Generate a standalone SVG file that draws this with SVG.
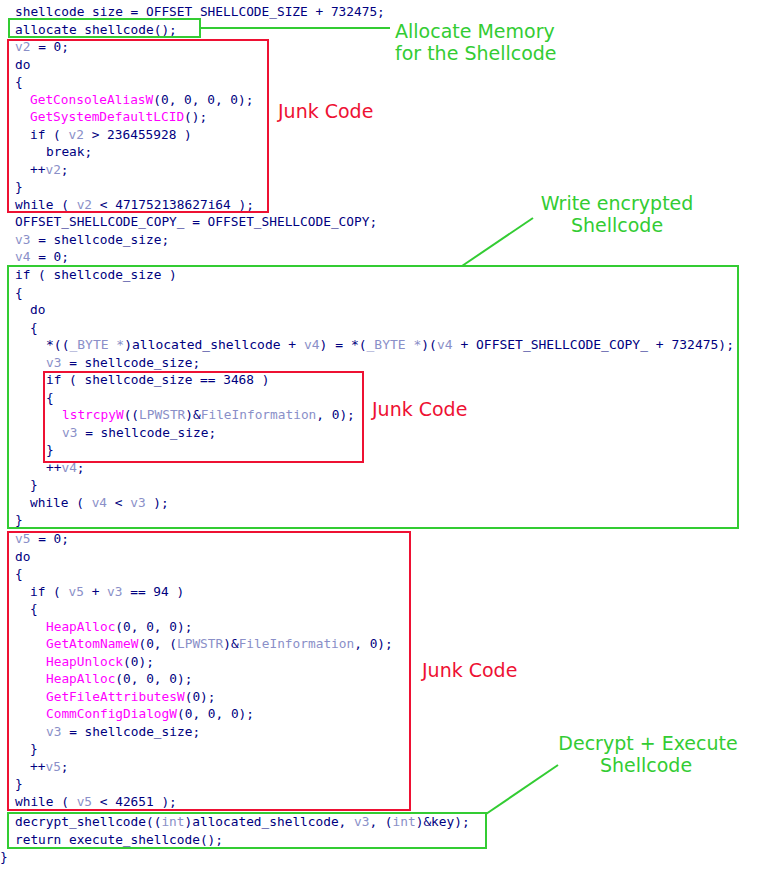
<svg xmlns="http://www.w3.org/2000/svg" width="768" height="872" viewBox="0 0 768 872">
<style>
.c{font-family:"DejaVu Sans Mono",monospace;font-size:12.8px;fill:#000080;white-space:pre}
.v{fill:#8a8fc8}.f{fill:#ff00ff}.g{fill:#0000ff}
.gb{fill:none;stroke:#33cc33;stroke-width:2}
.rb{fill:none;stroke:#ee1133;stroke-width:2}
.gl{font-family:"DejaVu Sans",sans-serif;font-size:19px;fill:#33cc33}
.rl{font-family:"DejaVu Sans",sans-serif;font-size:19px;fill:#ee1133}
</style>
<rect width="768" height="872" fill="#fff"/>
<g id="code" transform="translate(0,2)">
<text class="c" x="15" y="14">shellcode_size = OFFSET_SHELLCODE_SIZE + 732475;</text>
<text class="c" x="15" y="31.5">allocate_shellcode();</text>
<text class="c" x="15" y="49"><tspan class="v">v2</tspan> = 0;</text>
<text class="c" x="15" y="66.5">do</text>
<text class="c" x="15" y="84">{</text>
<text class="c" x="30" y="101.5"><tspan class="f">GetConsoleAliasW</tspan>(0, 0, 0, 0);</text>
<text class="c" x="30" y="119"><tspan class="f">GetSystemDefaultLCID</tspan>();</text>
<text class="c" x="30" y="136.5">if ( <tspan class="v">v2</tspan> &gt; 236455928 )</text>
<text class="c" x="46" y="154">break;</text>
<text class="c" x="30" y="171.5">++<tspan class="v">v2</tspan>;</text>
<text class="c" x="15" y="189">}</text>
<text class="c" x="15" y="206.5">while ( <tspan class="v">v2</tspan> &lt; 471752138627i64 );</text>
<text class="c" x="15" y="224">OFFSET_SHELLCODE_COPY_ = OFFSET_SHELLCODE_COPY;</text>
<text class="c" x="15" y="241.5"><tspan class="v">v3</tspan> = shellcode_size;</text>
<text class="c" x="15" y="259"><tspan class="v">v4</tspan> = 0;</text>
<text class="c" x="15" y="277">if ( shellcode_size )</text>
<text class="c" x="15" y="294.5">{</text>
<text class="c" x="30" y="312">do</text>
<text class="c" x="30" y="329.5">{</text>
<text class="c" x="46" y="347" textLength="688" lengthAdjust="spacingAndGlyphs">*((<tspan class="v">_BYTE *</tspan>)allocated_shellcode + <tspan class="v">v4</tspan>) = *(<tspan class="v">_BYTE *</tspan>)(<tspan class="v">v4</tspan> + OFFSET_SHELLCODE_COPY_ + 732475);</text>
<text class="c" x="46" y="364.5"><tspan class="v">v3</tspan> = shellcode_size;</text>
<text class="c" x="46" y="382">if ( shellcode_size == 3468 )</text>
<text class="c" x="46" y="399.5">{</text>
<text class="c" x="62" y="417"><tspan class="f">lstrcpyW</tspan>((<tspan class="v">LPWSTR</tspan>)&amp;<tspan class="v">FileInformation</tspan>, 0);</text>
<text class="c" x="62" y="434.5"><tspan class="v">v3</tspan> = shellcode_size;</text>
<text class="c" x="46" y="452">}</text>
<text class="c" x="46" y="469.5">++<tspan class="v">v4</tspan>;</text>
<text class="c" x="30" y="487">}</text>
<text class="c" x="30" y="504.5">while ( <tspan class="v">v4</tspan> &lt; <tspan class="v">v3</tspan> );</text>
<text class="c" x="15" y="522">}</text>
<text class="c" x="15" y="541"><tspan class="v">v5</tspan> = 0;</text>
<text class="c" x="15" y="558.5">do</text>
<text class="c" x="15" y="576">{</text>
<text class="c" x="30" y="593.5">if ( <tspan class="v">v5</tspan> + <tspan class="v">v3</tspan> == 94 )</text>
<text class="c" x="30" y="611">{</text>
<text class="c" x="46" y="628.5"><tspan class="f">HeapAlloc</tspan>(0, 0, 0);</text>
<text class="c" x="46" y="646"><tspan class="f">GetAtomNameW</tspan>(0, (<tspan class="v">LPWSTR</tspan>)&amp;<tspan class="v">FileInformation</tspan>, 0);</text>
<text class="c" x="46" y="663.5"><tspan class="f">HeapUnlock</tspan>(0);</text>
<text class="c" x="46" y="681"><tspan class="f">HeapAlloc</tspan>(0, 0, 0);</text>
<text class="c" x="46" y="698.5"><tspan class="f">GetFileAttributesW</tspan>(0);</text>
<text class="c" x="46" y="716"><tspan class="f">CommConfigDialogW</tspan>(0, 0, 0);</text>
<text class="c" x="46" y="733.5"><tspan class="v">v3</tspan> = shellcode_size;</text>
<text class="c" x="30" y="751">}</text>
<text class="c" x="30" y="768.5">++<tspan class="v">v5</tspan>;</text>
<text class="c" x="15" y="786">}</text>
<text class="c" x="15" y="803.5">while ( <tspan class="v">v5</tspan> &lt; 42651 );</text>
<text class="c" x="15" y="824">decrypt_shellcode((<tspan class="v">int</tspan>)allocated_shellcode, <tspan class="v">v3</tspan>, (<tspan class="v">int</tspan>)&amp;key);</text>
<text class="c" x="15" y="841.5">return execute_shellcode();</text>
<text class="c" x="0" y="859">}</text>
</g>
<g id="boxes">
<rect class="gb" x="9" y="19" width="191" height="18"/>
<rect class="rb" x="8" y="40" width="260" height="172"/>
<rect class="gb" x="8" y="266" width="730" height="262"/>
<rect class="rb" x="44" y="372" width="319" height="90"/>
<rect class="rb" x="8" y="532" width="402" height="278"/>
<rect class="gb" x="8" y="813" width="478" height="35"/>
</g>
<g id="connectors">
<line class="gb" x1="200" y1="28" x2="390" y2="28"/>
<line class="gb" x1="533" y1="218" x2="462" y2="266"/>
<line class="gb" x1="558" y1="765" x2="486" y2="814"/>
</g>
<g id="labels">
<text class="gl" x="395" y="38">Allocate Memory</text>
<text class="gl" x="395" y="60">for the Shellcode</text>
<text class="rl" x="278" y="118">Junk Code</text>
<text class="gl" x="617" y="210" text-anchor="middle">Write encrypted</text>
<text class="gl" x="617" y="232" text-anchor="middle">Shellcode</text>
<text class="rl" x="372" y="416">Junk Code</text>
<text class="rl" x="422" y="677">Junk Code</text>
<text class="gl" x="648" y="750" text-anchor="middle">Decrypt + Execute</text>
<text class="gl" x="646" y="772" text-anchor="middle">Shellcode</text>
</g>
</svg>
